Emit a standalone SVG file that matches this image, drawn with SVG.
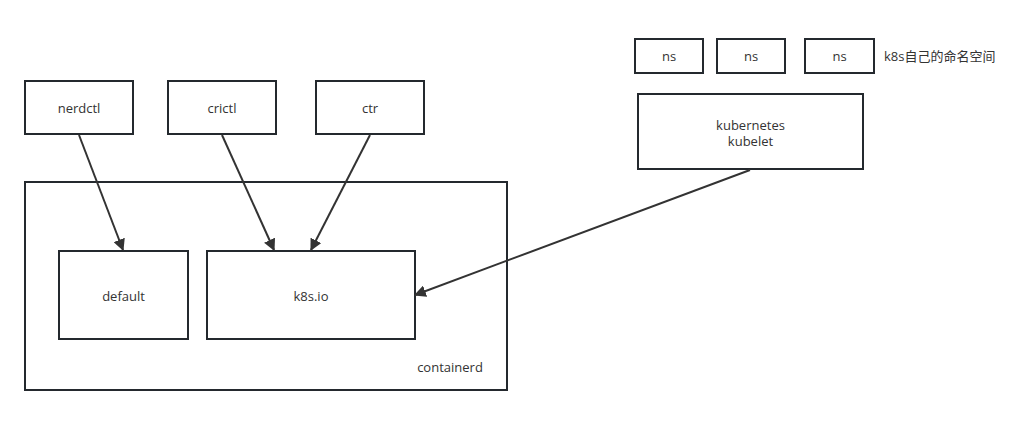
<svg xmlns="http://www.w3.org/2000/svg" width="1023" height="422" viewBox="0 0 1023 422">
<style>
.box{fill:#fff;stroke:#24292e;stroke-width:2}
.t{font-family:"Open Sans","Noto Sans","Noto Sans CJK SC",sans-serif;font-size:13px;fill:#333;text-anchor:middle;dominant-baseline:central}
.c{stroke:#333;stroke-width:2;fill:none;marker-end:url(#ah)}
</style>
<defs>
<marker id="ah" viewBox="0 0 10 10" refX="9" refY="5" markerWidth="6" markerHeight="6" markerUnits="strokeWidth" orient="auto">
<path d="M0,0 L10,5 L0,10 Z" fill="#333"/>
</marker>
</defs>
<rect width="1023" height="422" fill="#fff"/>
<g id="containerd"><rect class="box" x="25" y="182" width="482" height="208"/><text class="t" x="450" y="367">containerd</text></g>
<g id="default"><rect class="box" x="59" y="251" width="129" height="88"/><text class="t" x="123.5" y="296">default</text></g>
<g id="k8sio"><rect class="box" x="207" y="251" width="208" height="88"/><text class="t" x="311" y="296">k8s.io</text></g>
<g id="nerdctl"><rect class="box" x="25" y="81" width="108" height="53"/><text class="t" x="79" y="107.5">nerdctl</text></g>
<g id="crictl"><rect class="box" x="168" y="81" width="108" height="53"/><text class="t" x="222" y="107.5">crictl</text></g>
<g id="ctr"><rect class="box" x="316" y="81" width="108" height="53"/><text class="t" x="370" y="107.5">ctr</text></g>
<g id="kubelet"><rect class="box" x="638" y="94" width="225" height="75"/><text class="t" x="750.5" y="125">kubernetes</text><text class="t" x="750.5" y="141">kubelet</text></g>
<g id="ns1"><rect class="box" x="635" y="39" width="68" height="34"/><text class="t" x="669" y="56">ns</text></g>
<g id="ns2"><rect class="box" x="717" y="39" width="68" height="34"/><text class="t" x="751" y="56">ns</text></g>
<g id="ns3"><rect class="box" x="805" y="39" width="69" height="34"/><text class="t" x="839.5" y="56">ns</text></g>
<g id="label"><text class="t" x="884" y="56" style="text-anchor:start">k8s自己的命名空间</text></g>
<g id="connectors">
<line class="c" x1="79" y1="135" x2="123" y2="250"/>
<line class="c" x1="222" y1="135" x2="274" y2="250"/>
<line class="c" x1="370" y1="135" x2="311" y2="250"/>
<line class="c" x1="750" y1="170" x2="415" y2="295"/>
</g>
</svg>
